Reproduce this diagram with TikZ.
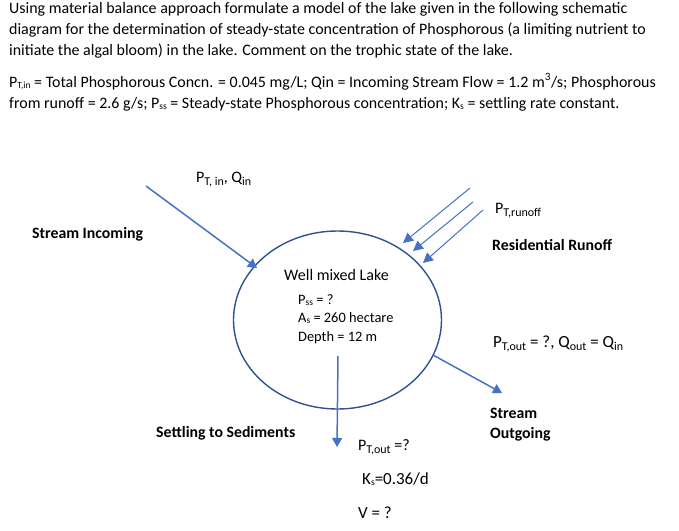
\documentclass[tikz,border=0pt]{standalone}
\usepackage{fontspec}
\setmainfont{Carlito}
\usetikzlibrary{arrows.meta,shapes.geometric}
\definecolor{flow}{HTML}{4472C4}
\definecolor{rim}{HTML}{2F5191}
\newcommand{\subt}[1]{\raisebox{-0.22em}{\fontsize{12}{12}\selectfont #1}}
\newcommand{\subm}[1]{{\fontsize{9.5}{9.5}\selectfont\raisebox{-0.2em}{#1}}}
\tikzset{
  x=1pt,y=-1pt,
  txt/.style={anchor=base west,inner sep=0pt,font=\fontsize{15.95}{18}\selectfont,text=black},
  lab/.style={anchor=base west,inner sep=0pt,font=\fontsize{16}{18}\selectfont,text=black},
  big/.style={anchor=base west,inner sep=0pt,font=\fontsize{17}{19}\selectfont,text=black},
  small/.style={anchor=base west,inner sep=0pt,font=\fontsize{14.4}{16}\selectfont,text=black},
  hd/.style={anchor=base west,inner sep=0pt,font=\fontsize{15.8}{18}\selectfont\bfseries,text=black},
  thick flow/.style={draw=flow,line width=1.5pt,-{Triangle[length=9pt,width=10pt]}},
  thin flow/.style={draw=flow,line width=1pt,-{Triangle[length=10pt,width=10pt]}},
  lake/.style={draw=rim,line width=1.4pt,ellipse,minimum width=208pt,minimum height=178pt,inner sep=0pt}
}
\begin{document}
\begin{tikzpicture}
\useasboundingbox (0,0) rectangle (679,530);
\node[txt] (l1) at (9,13) {Using material balance approach formulate a model of the lake given in the following schematic};
\node[txt] (l2) at (9,34) {diagram for the determination of steady-state concentration of Phosphorous (a limiting nutrient to};
\node[txt] (l3) at (9,55) {initiate the algal bloom) in the lake. Comment on the trophic state of the lake.};
\node[txt] (l4) at (9,87) {P\subm{T,in} = Total Phosphorous Concn. = 0.045 mg/L; Qin = Incoming Stream Flow = 1.2 m\textsuperscript{3}/s; Phosphorous};
\node[txt] (l5) at (9,108) {from runoff = 2.6 g/s; P\subm{ss} = Steady-state Phosphorous concentration; K\subm{s} = settling rate constant.};

\node[lake] (lake) at (337.5,320) {};

\coordinate (inS) at (146,186);
\coordinate (inE) at (257,268);
\coordinate (r1S) at (470,188);
\coordinate (r1E) at (403,243);
\coordinate (r2S) at (473,202);
\coordinate (r2E) at (413,251);
\coordinate (r3S) at (483,210);
\coordinate (r3E) at (423,263);
\coordinate (oS) at (433,355);
\coordinate (oE) at (502,393);
\coordinate (sS) at (338,356);
\coordinate (sE) at (337,447);

\draw[thick flow] (inS) -- (inE);
\draw[thin flow] (r1S) -- (r1E);
\draw[thin flow] (r2S) -- (r2E);
\draw[thin flow] (r3S) -- (r3E);
\draw[thick flow] (oS) -- (oE);
\draw[thick flow] (sS) -- (sE);

\node[lab] (pin) at (196,182) {P\subt{T, in}, Q\subt{in}};
\node[hd] (si) at (32,238) {Stream Incoming};
\node[lab] (prun) at (495,213) {P\subt{T,runoff}};
\node[hd] (rr) at (492,250) {Residential Runoff};
\node[lab] (well) at (284,280) {Well mixed Lake};
\node[small] (pss) at (298,304) {P\subm{ss} = ?};
\node[small] (as) at (298,322) {A\subm{s} = 260 hectare};
\node[small] (dep) at (298,341) {Depth = 12 m};
\node[big] (pout) at (493,347) {P\subt{T,out} = ?, Q\subt{out} = Q\subt{in}};
\node[hd] (so1) at (490,418) {Stream};
\node[hd] (so2) at (490,438) {Outgoing};
\node[hd] (sed) at (156,437) {Settling to Sediments};
\node[lab] (pt2) at (358,450) {P\subt{T,out} =?};
\node[big] (ks) at (362,484) {K\subm{s}=0.36/d};
\node[big] (v) at (358,518) {V = ?};
\end{tikzpicture}
\end{document}
